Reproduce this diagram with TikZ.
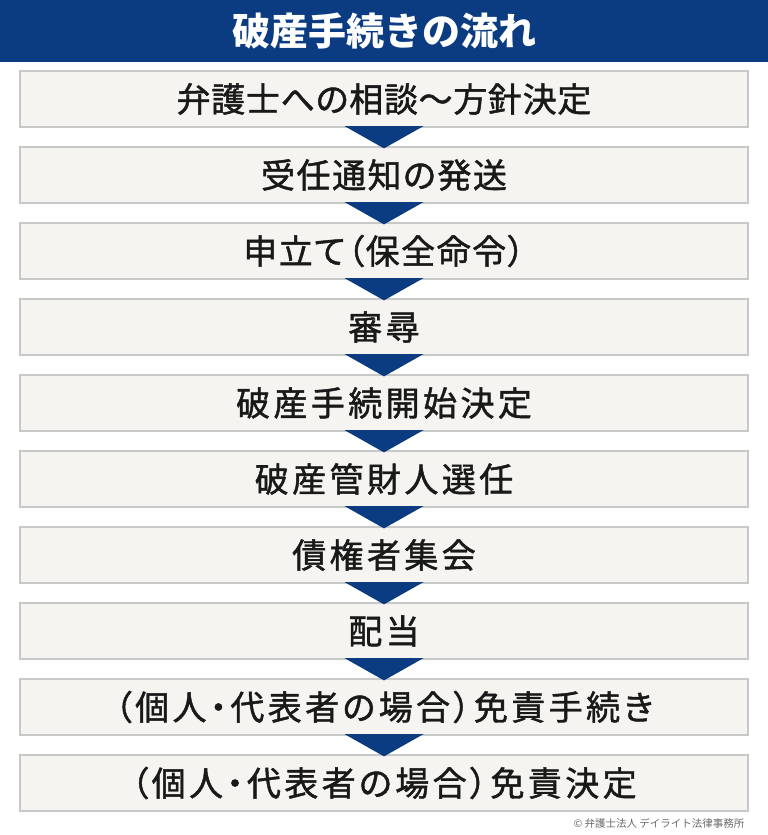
\documentclass[tikz,border=0pt]{standalone}
\usepackage{fontspec}
\setmainfont{Noto Sans CJK JP}
\newfontfamily\stepfont[FakeBold=1.3,LetterSpace=10,RawFeature=+palt]{Noto Sans CJK JP}
\newfontfamily\stepfontmid[FakeBold=1.3,LetterSpace=4.5,RawFeature=+palt]{Noto Sans CJK JP}
\newfontfamily\stepfonttight[FakeBold=1.3,LetterSpace=2,RawFeature=+palt]{Noto Sans CJK JP}
\definecolor{hdblue}{HTML}{0B3C82}
\definecolor{boxfill}{HTML}{F5F4F0}
\definecolor{boxline}{HTML}{C8C8C8}
\definecolor{credit}{HTML}{6A6A6A}
\begin{document}
\begin{tikzpicture}[x=1pt,y=1pt,
  stepbox/.style={draw=boxline,line width=1.2pt,fill=boxfill,minimum width=728pt,minimum height=56pt,inner sep=0pt,font=\stepfont\fontsize{34}{34}\selectfont,text=black!90},
  midbox/.style={stepbox,font=\stepfontmid\fontsize{34}{34}\selectfont},
  tightbox/.style={stepbox,font=\stepfonttight\fontsize{34}{34}\selectfont},
  arrowtri/.style={fill=hdblue,draw=none}]
\useasboundingbox (0,0) rectangle (768,-835);
\fill[white] (0,0) rectangle (768,-835);
\node[fill=hdblue,minimum width=768pt,minimum height=62pt,inner sep=0pt,anchor=north west,text=white,font=\fontsize{38}{38}\selectfont\bfseries] (title) at (0,0) {破産手続きの流れ};
\foreach \i/\s/\t in {1/tightbox/弁護士への相談～方針決定,2/midbox/受任通知の発送,3/midbox/申立て（保全命令）,4/stepbox/審尋,5/stepbox/破産手続開始決定,6/stepbox/破産管財人選任,7/stepbox/債権者集会,8/stepbox/配当,9/stepbox/（個人・代表者の場合）免責手続き,10/stepbox/（個人・代表者の場合）免責決定}{
  \node[\s] (b\i) at (384,{-99-76*(\i-1)}) {\t};
}
\foreach \i [evaluate=\i as \j using int(\i+1)] in {1,...,9}{
  \fill[arrowtri] ([shift={(-39.5,1.5)}]b\i.south) -- ([shift={(39.5,1.5)}]b\i.south) -- ([shift={(0,-2)}]b\j.north) -- cycle;
}
\node[anchor=east,text=credit,font=\fontsize{10.5}{10.5}\selectfont] (cr) at (748,-823) {© 弁護士法人 デイライト法律事務所};
\end{tikzpicture}
\end{document}
